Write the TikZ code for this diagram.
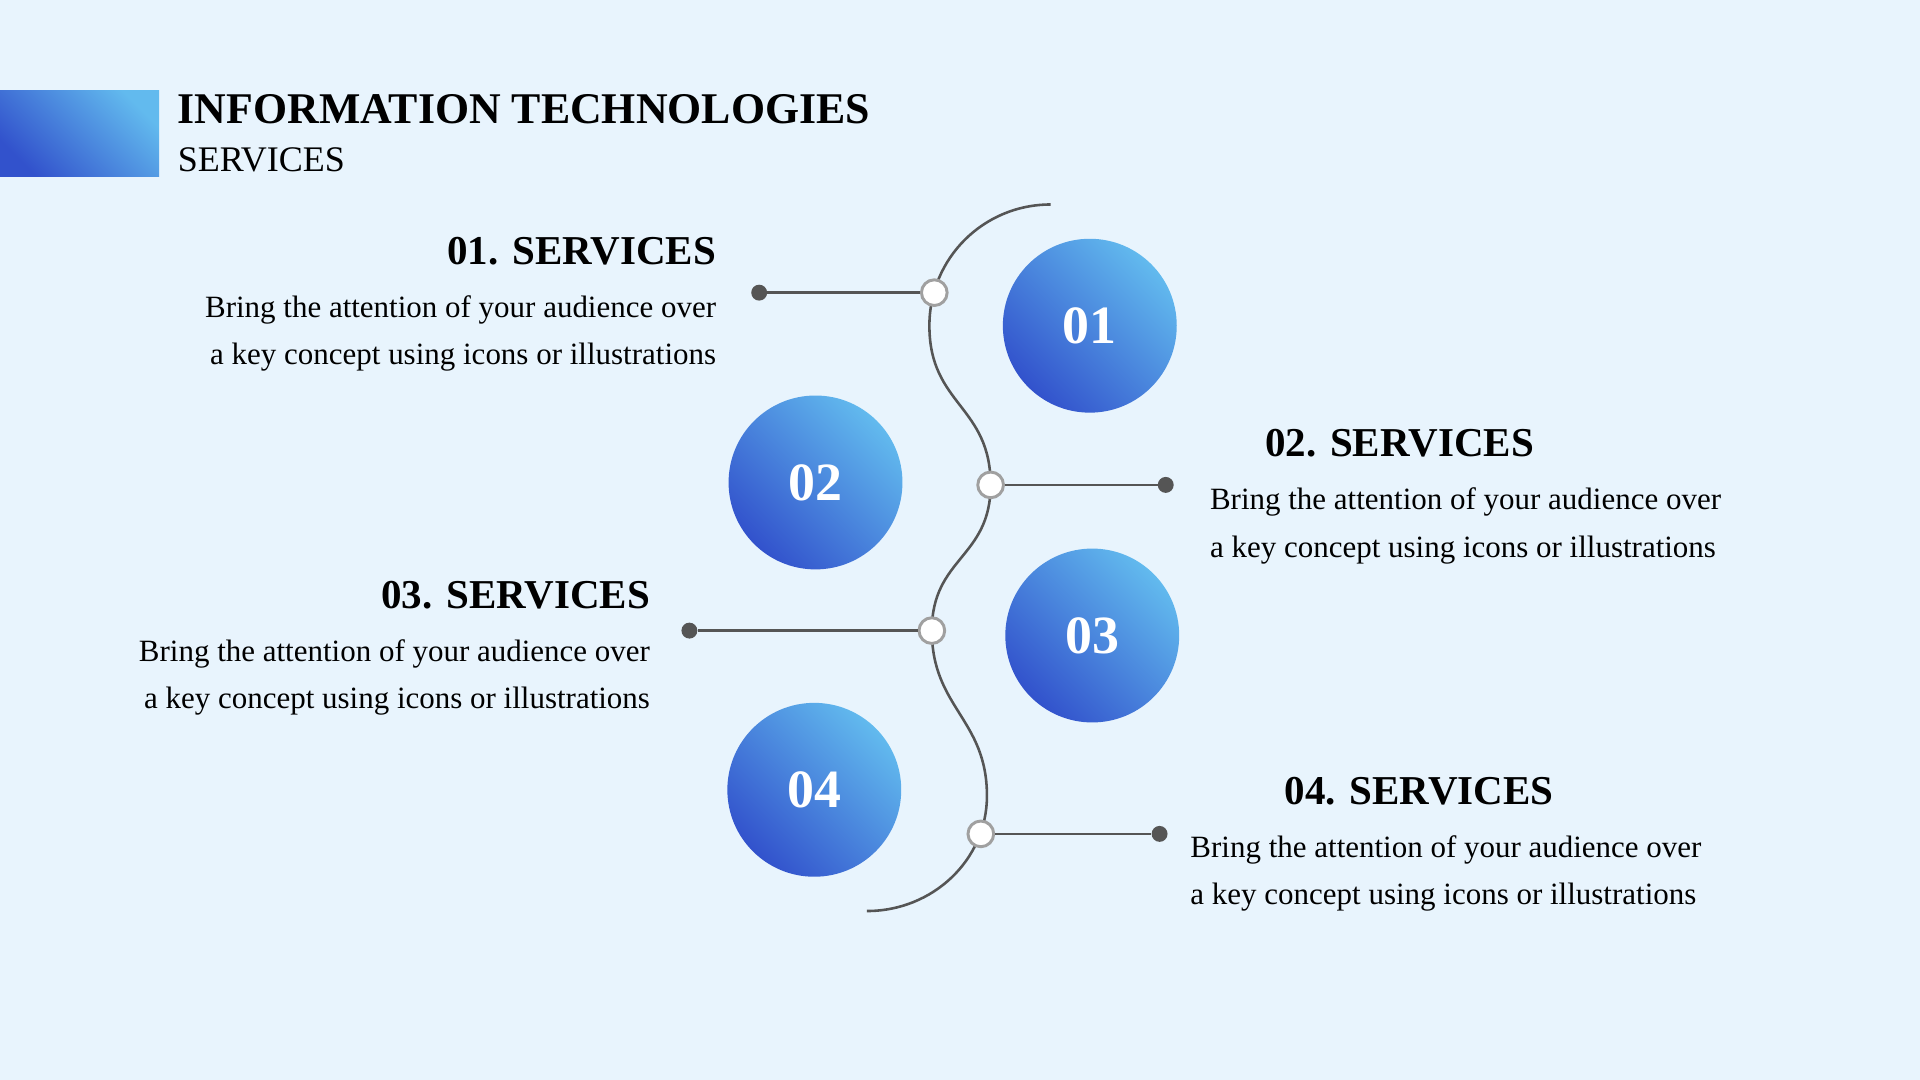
\documentclass[tikz,border=0pt]{standalone}
\usepackage{fontspec}
\setmainfont{Liberation Serif}
\definecolor{bgblue}{RGB}{232,244,253}
\definecolor{lightblue}{RGB}{98,186,238}
\definecolor{darkblue}{RGB}{50,82,204}
\definecolor{wire}{RGB}{85,85,85}
\definecolor{ring}{RGB}{160,160,160}
\tikzset{
  blueshade/.style={top color=darkblue,middle color=lightblue!72!darkblue,bottom color=lightblue,shading angle=135},
  badge/.style={circle,minimum size=142pt,inner sep=0pt,blueshade,text=white,font=\bfseries\fontsize{44}{44}\selectfont},
  knot/.style={circle,draw=ring,line width=2.4pt,fill=white,minimum size=21pt,inner sep=0pt},
  enddot/.style={circle,fill=wire,minimum size=13pt,inner sep=0pt},
  heading/.style={inner sep=0pt,font=\bfseries\fontsize{33.5}{34}\selectfont},
  blurb/.style={inner sep=0pt,font=\fontsize{25.3}{26}\selectfont},
}
\begin{document}
\begin{tikzpicture}[x=1pt,y=-1pt]
  \useasboundingbox (0,0) rectangle (1568,882);
  \fill[bgblue] (0,0) rectangle (1568,882); % Background
  \shade[blueshade] (0,74) rectangle (130,144); % Title bar
  \node[inner sep=0pt,anchor=base west,font=\bfseries\fontsize{35.8}{36}\selectfont] (title) at (145,101) {INFORMATION TECHNOLOGIES};
  \node[inner sep=0pt,anchor=base west,font=\fontsize{29.4}{30}\selectfont] (subtitle) at (145,140) {SERVICES};
  \draw[wire,line width=2.1pt] (858,167) .. controls (803,167) and (759,211) .. (759,266)
    .. controls (759,331) and (809,331) .. (809,396)
    .. controls (809,456) and (761,455) .. (761,515)
    .. controls (761,578) and (806,587) .. (806,650)
    .. controls (806,702) and (762,744) .. (708,744); % Wavy line
  \node[badge] (b1) at (890,266) {01};
  \node[badge] (b2) at (666,394) {02};
  \node[badge] (b3) at (892,519) {03};
  \node[badge] (b4) at (665,645) {04};
  \node[knot] (k1) at (763,239) {};
  \node[knot] (k2) at (809,396) {};
  \node[knot] (k3) at (761,515) {};
  \node[knot] (k4) at (801,681) {};
  \node[enddot] (d1) at (620,239) {};
  \node[enddot] (d2) at (952,396) {};
  \node[enddot] (d3) at (563,515) {};
  \node[enddot] (d4) at (947,681) {};
  \begin{scope}[wire,line width=2.1pt] % Branches
    \draw (d1) -- (k1);
    \draw (k2) -- (d2);
    \draw (d3) -- (k3);
    \draw (k4) -- (d4);
  \end{scope}
  \node[heading,anchor=base east] (h1) at (585,216) {01. SERVICES};
  \node[blurb,anchor=base east] (t1a) at (585,259) {Bring the attention of your audience over};
  \node[blurb,anchor=base east] (t1b) at (585,298) {a key concept using icons or illustrations};
  \node[heading,anchor=base west] (h2) at (1033,373) {02. SERVICES};
  \node[blurb,anchor=base west] (t2a) at (988,416) {Bring the attention of your audience over};
  \node[blurb,anchor=base west] (t2b) at (988,455) {a key concept using icons or illustrations};
  \node[heading,anchor=base east] (h3) at (531,497) {03. SERVICES};
  \node[blurb,anchor=base east] (t3a) at (531,540) {Bring the attention of your audience over};
  \node[blurb,anchor=base east] (t3b) at (531,579) {a key concept using icons or illustrations};
  \node[heading,anchor=base west] (h4) at (1049,657) {04. SERVICES};
  \node[blurb,anchor=base west] (t4a) at (972,700) {Bring the attention of your audience over};
  \node[blurb,anchor=base west] (t4b) at (972,739) {a key concept using icons or illustrations};
\end{tikzpicture}
\end{document}
